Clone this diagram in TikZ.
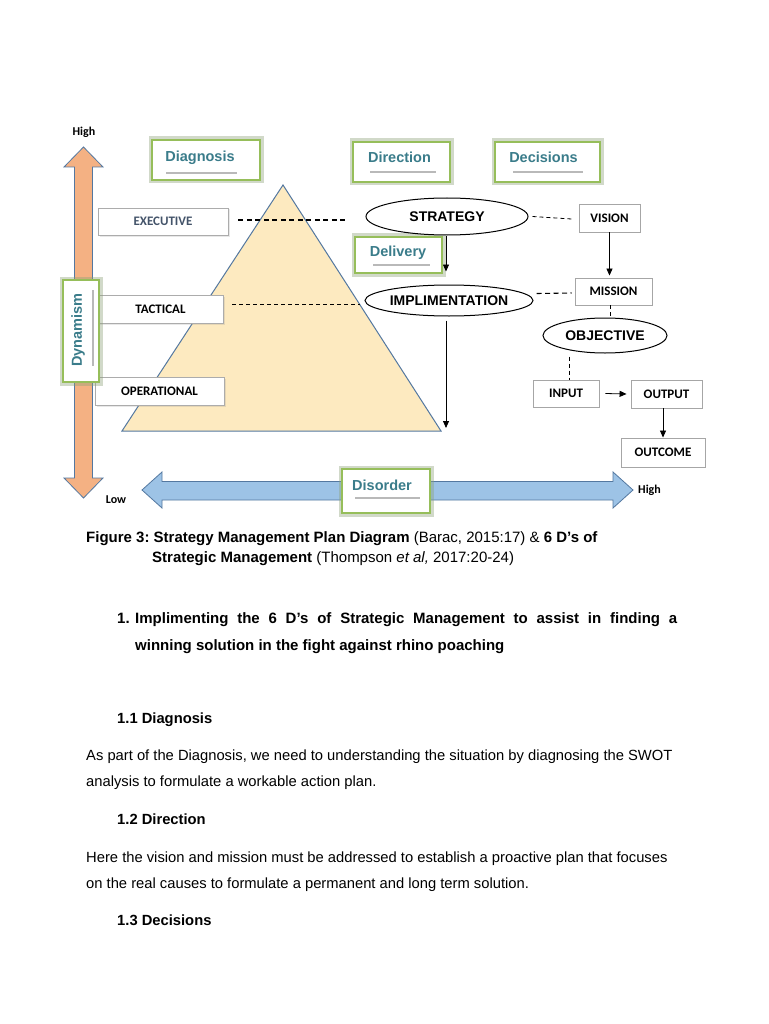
\documentclass[tikz,border=0pt]{standalone}
\usepackage{fontspec}
\usepackage{graphicx}
\setmainfont{Liberation Sans}
\newfontfamily\calfont{Carlito}
\usetikzlibrary{shapes.geometric,arrows.meta,calc,shadows}
\frenchspacing
\definecolor{tealtext}{RGB}{58,124,138}
\definecolor{glowgreen}{RGB}{150,190,90}
\definecolor{glowshade}{RGB}{140,160,120}
\definecolor{orangefill}{RGB}{244,177,131}
\definecolor{bluefill}{RGB}{157,195,230}
\definecolor{edgeblue}{RGB}{84,120,160}
\definecolor{trifill}{RGB}{253,234,192}
\definecolor{execcol}{RGB}{68,84,106}
\tikzset{
  glowb/.style={rectangle, fill=white, draw=glowgreen, line width=1.6pt, inner sep=0pt,
    preaction={draw=glowshade, draw opacity=0.4, line width=7pt}},
  gtext/.style={font=\fontsize{14.5}{16}\selectfont\bfseries, text=tealtext, inner sep=0pt},
  uline/.style={draw=gray!55, line width=1.6pt},
  levelbox/.style={rectangle, draw=gray!65, fill=white, line width=0.8pt, inner sep=0pt,
    drop shadow={opacity=0.18, shadow xshift=1.5pt, shadow yshift=-1.5pt},
    font=\calfont\fontsize{13}{14}\selectfont\bfseries},
  rbox/.style={rectangle, draw=gray!70, fill=white, line width=0.9pt, inner sep=0pt,
    drop shadow={opacity=0.15, shadow xshift=1.2pt, shadow yshift=-1.2pt},
    font=\calfont\fontsize{13}{14}\selectfont\bfseries},
  ell/.style={ellipse, draw=black, line width=1pt, fill=white, inner sep=0pt,
    font=\fontsize{14}{16}\selectfont\bfseries},
  dline/.style={draw=black, line width=1.1pt, dash pattern=on 5pt off 3.5pt},
  dthin/.style={draw=black, line width=0.8pt, dash pattern=on 4pt off 3pt},
  arr/.style={draw=black, line width=0.8pt, -{Triangle[length=7pt,width=6pt]}},
  small/.style={font=\calfont\fontsize{12}{13}\selectfont\bfseries, inner sep=0pt},
  body/.style={font=\fontsize{14.75}{17}\selectfont, inner sep=0pt, anchor=base west},
  headb/.style={font=\fontsize{14.75}{16}\selectfont\bfseries, inner sep=0pt, anchor=base west},
}
\begin{document}
\begin{tikzpicture}[x=1pt,y=-1pt]
\useasboundingbox[fill=white] (0,0) rectangle (768,1024);

% vertical orange double arrow
\filldraw[fill=orangefill, draw=edgeblue, line width=0.8pt]
  (83.5,147) -- (103,167) -- (92.5,167) -- (92.5,478) -- (103,478) -- (83.5,498)
  -- (64,478) -- (74.5,478) -- (74.5,167) -- (64,167) -- cycle;
% horizontal blue double arrow
\filldraw[fill=bluefill, draw=edgeblue, line width=0.8pt]
  (142,490) -- (162,472) -- (162,481.5) -- (613,481.5) -- (613,472) -- (633,490)
  -- (613,508) -- (613,500) -- (162,500) -- (162,508) -- cycle;

% triangle
\filldraw[fill=trifill, draw=edgeblue, line width=1pt] (283,185) -- (441,431) -- (122,431) -- cycle;

% axis labels
\node[small] (hightop) at (84,132) {High};
\node[small] (lowlbl) at (116,500) {Low};
\node[small, anchor=west] (highright) at (638,490) {High};

% level boxes
\node[levelbox, text=execcol, minimum width=130pt, minimum height=27pt] (exec) at (163,221.5) {EXECUTIVE};
\node[levelbox, minimum width=125pt, minimum height=28pt] (tact) at (160.5,309) {TACTICAL};
\node[levelbox, minimum width=129pt, minimum height=28pt] (oper) at (159.5,391) {OPERATIONAL};

% glow boxes
\node[glowb, minimum width=108pt, minimum height=40pt] (diag) at (206,160) {};
\node[gtext] (diagt) at (200,158) {Diagnosis};
\draw[uline] (166,173) -- (237,173);

\node[glowb, minimum width=97pt, minimum height=40pt] (dirc) at (401.5,162) {};
\node[gtext] (dirct) at (399.5,157) {Direction};
\draw[uline] (370,172) -- (436,172);

\node[glowb, minimum width=105pt, minimum height=40pt] (deci) at (547.5,162) {};
\node[gtext] (decit) at (543.5,157) {Decisions};
\draw[uline] (513,172) -- (583,172);

\node[glowb, minimum width=87pt, minimum height=36pt] (deli) at (398.5,255) {};
\node[gtext] (delit) at (398,253) {Delivery};
\draw[uline] (373,265) -- (430,265);

\node[glowb, minimum width=88pt, minimum height=44pt] (diso) at (386,491) {};
\node[gtext] (disot) at (382,485) {Disorder};
\draw[uline] (355,498) -- (420,498);

\node[glowb, minimum width=36pt, minimum height=102pt] (dyna) at (81,331) {};
\node[gtext, rotate=90] (dynat) at (78,330) {Dynamism};
\draw[uline] (93,290) -- (93,366);

% ellipses
\node[ell, minimum width=162pt, minimum height=37pt] (strat) at (447,216.5) {STRATEGY};
\node[ell, minimum width=168pt, minimum height=31pt] (impl) at (449,300.5) {IMPLIMENTATION};
\node[ell, minimum width=124pt, minimum height=35pt] (obj) at (605,335.5) {OBJECTIVE};

% right boxes
\node[rbox, minimum width=61pt, minimum height=28pt] (vision) at (609.5,218) {VISION};
\node[rbox, minimum width=77pt, minimum height=27pt] (mission) at (613.5,291.5) {MISSION};
\node[rbox, minimum width=66pt, minimum height=27pt] (input) at (566,393.5) {INPUT};
\node[rbox, minimum width=71pt, minimum height=28pt] (output) at (666.5,394) {OUTPUT};
\node[rbox, minimum width=84pt, minimum height=29pt] (outcome) at (663,452.5) {OUTCOME};

% connectors
\draw[dline] ([xshift=10pt,yshift=1.5pt]exec.east) -- ([xshift=-18pt,yshift=-3.5pt]strat.west);
\draw[dthin] ([xshift=4pt]strat.east) -- ([xshift=-7pt,yshift=-1pt]vision.west);
\draw[dthin] ([shift={(9,-5)}]tact.east) -- ([shift={(-5,3.5)}]impl.west);
\draw[dline] ([shift={(3,-7)}]impl.east) -- ([shift={(-3,1.5)}]mission.west);
\draw[arr] (vision.south) -- ([xshift=-4pt,yshift=2pt]mission.north);
\draw[dthin] ([xshift=-3pt]mission.south) -- ([xshift=-3pt]mission.south |- obj.north);
\draw[dthin] ([xshift=3pt,yshift=-3pt]obj.south -| input.north) -- ([xshift=3pt]input.north);
\draw[arr] ([xshift=6pt]input.east) -- ([xshift=-4pt]output.west);
\draw[arr] (outcome.north |- output.south) -- (outcome.north);
\draw[arr] ([xshift=-1pt]strat.south) -- ([xshift=-3pt,yshift=13pt]impl.north);
\coordinate (baseend) at (446,428);
\draw[arr] ([xshift=-3pt,yshift=-4pt]impl.south) -- (baseend);

% caption
\node[body, font=\fontsize{15}{16}\selectfont] (cap1) at (86,542) {\textbf{Figure 3: Strategy Management Plan Diagram} (Barac, 2015:17) \& \textbf{6 D’s of}};
\node[body, font=\fontsize{15}{16}\selectfont] (cap2) at (152,562) {\textbf{Strategic Management} (Thompson \textit{et al,} 2017:20-24)};

% heading
\node[headb, font=\fontsize{15}{16}\selectfont\bfseries] (h1n) at (117,623) {1.};
\node[headb, font=\fontsize{15}{16}\selectfont\bfseries] (h1a) at (135,623) {\makebox[542pt][s]{Implimenting the 6 D’s of Strategic Management to assist in finding a}};
\node[headb, font=\fontsize{15}{16}\selectfont\bfseries] (h1b) at (135,650) {winning solution in the fight against rhino poaching};

\node[headb] (s11) at (117,723) {1.1 Diagnosis};
\node[body] (p1a) at (86,760) {As part of the Diagnosis, we need to understanding the situation by diagnosing the SWOT};
\node[body] (p1b) at (86,786) {analysis to formulate a workable action plan.};
\node[headb] (s12) at (117,824) {1.2 Direction};
\node[body] (p2a) at (86,862) {Here the vision and mission must be addressed to establish a proactive plan that focuses};
\node[body] (p2b) at (86,888) {on the real causes to formulate a permanent and long term solution.};
\node[headb] (s13) at (117,925) {1.3 Decisions};
\end{tikzpicture}
\end{document}
